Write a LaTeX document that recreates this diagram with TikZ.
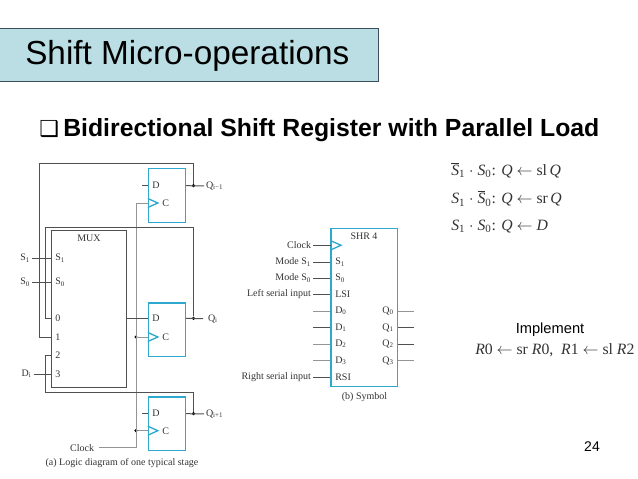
\documentclass[tikz,border=0pt]{standalone}
\usepackage{fontspec}
\setmainfont{Liberation Serif}
\newfontfamily\arialfont{Liberation Sans}
\newfontfamily\boxfont{DejaVu Sans}
\usetikzlibrary{positioning}

\definecolor{ffcyan}{HTML}{2FA8CF}
\definecolor{wiregray}{HTML}{505050}
\definecolor{clockgray}{HTML}{959595}
\definecolor{titlefill}{HTML}{BADEE3}
\definecolor{titleline}{HTML}{3C4F5C}

\newcommand{\clkmark}[1]{\draw[ffline] (#1) ++(0,-4.5) -- ++(10,4.5) -- ++(-10,4.5);}
\newcommand{\ovS}{$\overline{\mbox{\textit{S}}}$}

\begin{document}
\begin{tikzpicture}[
    x = 0.75pt,
    y = -0.75pt,
    node distance = 0pt,
    lbl/.style = {inner sep = 0pt, font = \fontsize{7.5}{9}\selectfont, text = black!80},
    pinlbl/.style = {lbl, outer sep = 1.5pt},
    eqn/.style = {inner sep = 0pt, anchor = west, font = \fontsize{11.8}{14}\selectfont, text = black!80},
    wire/.style = {draw = wiregray, line width = 0.75pt},
    clockwire/.style = {draw = clockgray, line width = 0.7pt},
    ffline/.style = {draw = ffcyan, line width = 1pt},
    ffbox/.style = {ffline, minimum width = 27.75pt, minimum height = 40.2pt, inner sep = 0pt},
    dot/.style = {circle, fill = black, inner sep = 0pt, minimum size = 2.6pt}
    ]
    \useasboundingbox (0,0) rectangle (638,478);

    % heading
    \node[draw = titleline, fill = titlefill, line width = 0.8pt, minimum width = 285pt, minimum height = 40pt, inner sep = 0pt] (title) at (188.5,54.8) {};
    \node[inner sep = 0pt, anchor = west, font = \arialfont\fontsize{25}{29}\selectfont] (titletxt) at (25,55.5) {Shift Micro-operations};
    \node[inner sep = 0pt, anchor = west, font = \boxfont\bfseries\fontsize{16.5}{20}\selectfont] (bullet) at (39,129) {❑};
    \node[inner sep = 0pt, anchor = west, font = \arialfont\bfseries\fontsize{18.6}{22}\selectfont] (subtitle) at (63,130) {Bidirectional Shift Register with Parallel Load};

    % flip flops and mux
    \node[ffbox] (ffa) at (167,195.5) {};
    \node[ffbox] (ffb) at (167,329.7) {};
    \node[ffbox] (ffc) at (167,423.7) {};
    \node[draw = wiregray, line width = 0.75pt, minimum width = 56.25pt, minimum height = 117.5pt, inner sep = 0pt] (mux) at (89,309) {};

    % mux text
    \node[lbl] (muxname) at (89,238) {MUX};
    \node[lbl, anchor = west] (ms1) at (55,258) {S\textsubscript{1}};
    \node[lbl, anchor = west] (ms0) at (55,282) {S\textsubscript{0}};
    \node[lbl, anchor = west] (in0) at (55,318) {0};
    \node[lbl, anchor = west] (in1) at (55,337) {1};
    \node[lbl, anchor = west] (in2) at (55,355.5) {2};
    \node[lbl, anchor = west] (in3) at (55,374) {3};
    \node[pinlbl, anchor = east] (s1) at (32,258) {S\textsubscript{1}};
    \node[pinlbl, anchor = east] (s0) at (32,282) {S\textsubscript{0}};
    \node[pinlbl, anchor = east] (di) at (33.5,374) {D\textsubscript{i}};

    % flip flop text
    \node[lbl, anchor = west] (da) at (152,185.7) {D};
    \node[lbl, anchor = west] (db) at (152,318.3) {D};
    \node[lbl, anchor = west] (dc) at (152,413.7) {D};
    \node[lbl, anchor = west] (ca) at (162,203) {C};
    \node[lbl, anchor = west] (cb) at (162,337) {C};
    \node[lbl, anchor = west] (cc) at (162,431) {C};
    \node[pinlbl, anchor = west] (oa) at (204,186) {Q\textsubscript{i−1}};
    \node[pinlbl, anchor = west, outer sep = 3.75pt] (ob) at (203,319) {Q\textsubscript{i}};
    \node[pinlbl, anchor = west] (oc) at (204,414) {Q\textsubscript{i+1}};
    \node[dot] (qa) at (193.5,185.7) {};
    \node[dot] (qb) at (193.5,318.3) {};
    \node[dot] (qc) at (193.5,413.7) {};
    \node[dot] (cka) at (136,337) {};
    \node[dot] (ckb) at (136,430.7) {};
    \node[pinlbl, anchor = east, outer sep = 3.75pt] (clock) at (99,447.7) {Clock};
    \node[lbl] (capa) at (122,463) {(a) Logic diagram of one typical stage};

    \coordinate (pinda) at (142,185.7);
    \coordinate (pindc) at (142,413.7);
    \coordinate (cktop) at (136,203);

    % clock lines
    \draw[clockwire] (clock) -| (cktop) -- (cktop -| ffa.west);
    \draw[clockwire] (cka) -- (cka -| ffb.west);
    \draw[clockwire] (ckb) -- (ckb -| ffc.west);
    \clkmark{ffa.west |- cktop}
    \clkmark{ffb.west |- cka}
    \clkmark{ffc.west |- ckb}

    % signal lines
    \draw[wire] (ffa.east |- qa) -- (oa);
    \draw[wire] (ffb.east |- qb) -- (ob);
    \draw[wire] (ffc.east |- qc) -- (oc);
    \draw[wire] (pinda) -- (ffa.west |- pinda);
    \draw[wire] (pindc) -- (ffc.west |- pindc);
    \draw[wire] (mux.east |- qb) -- (ffb.west |- qb);
    \draw[wire] (s1) -- (mux.west |- s1);
    \draw[wire] (s0) -- (mux.west |- s0);
    \draw[wire] (di) -- (mux.west |- di);
    \draw[wire] (qa) |- (39,163.3) |- (mux.west |- in1);
    \draw[wire] (qb) |- (45,227.3) |- (mux.west |- in0);
    \draw[wire] (mux.west |- in2) -| (45,392) -| (qc);

    % symbol
    \node[ffline, minimum width = 50pt, minimum height = 118.8pt, inner sep = 0pt] (shr) at (364.3,307.5) {};
    \node[lbl] (shrname) at (364,236) {SHR 4};
    \coordinate (shrclk) at (331,245.3);
    \node[lbl, anchor = west] (is1) at (335,262) {S\textsubscript{1}};
    \node[lbl, anchor = west] (is0) at (335,278) {S\textsubscript{0}};
    \node[lbl, anchor = west] (ilsi) at (335,294.3) {LSI};
    \node[lbl, anchor = west] (id0) at (335,311) {D\textsubscript{0}};
    \node[lbl, anchor = west] (id1) at (335,327.7) {D\textsubscript{1}};
    \node[lbl, anchor = west] (id2) at (335,344) {D\textsubscript{2}};
    \node[lbl, anchor = west] (id3) at (335,360.7) {D\textsubscript{3}};
    \node[lbl, anchor = west] (irsi) at (335,377.3) {RSI};
    \node[lbl, anchor = east] (oq0) at (394,311) {Q\textsubscript{0}};
    \node[lbl, anchor = east] (oq1) at (394,327.7) {Q\textsubscript{1}};
    \node[lbl, anchor = east] (oq2) at (394,344) {Q\textsubscript{2}};
    \node[lbl, anchor = east] (oq3) at (394,360.7) {Q\textsubscript{3}};
    \node[pinlbl, anchor = east] (nclock) at (313,245.3) {Clock};
    \node[pinlbl, anchor = east] (nmode1) at (313,262) {Mode S\textsubscript{1}};
    \node[pinlbl, anchor = east] (nmode0) at (313,278) {Mode S\textsubscript{0}};
    \node[pinlbl, anchor = east] (nleft) at (313,294.3) {Left serial input};
    \node[pinlbl, anchor = east] (nright) at (313,377.3) {Right serial input};
    \node[lbl] (capb) at (364.5,397) {(b) Symbol};

    \coordinate (fd0) at (313,311);
    \coordinate (fd1) at (313,327.7);
    \coordinate (fd2) at (313,344);
    \coordinate (fd3) at (313,360.7);
    \coordinate (tq0) at (414,311);
    \coordinate (tq1) at (414,327.7);
    \coordinate (tq2) at (414,344);
    \coordinate (tq3) at (414,360.7);

    \clkmark{shrclk}
    \draw[wire] (nclock) -- (shrclk);
    \draw[wire] (nmode1) -- (shr.west |- nmode1);
    \draw[wire] (nmode0) -- (shr.west |- nmode0);
    \draw[wire] (nleft) -- (shr.west |- nleft);
    \draw[wire] (nright) -- (shr.west |- nright);
    \draw[clockwire] (fd0) -- (shr.west |- fd0);
    \draw[wire] (fd1) -- (shr.west |- fd1);
    \draw[clockwire] (fd2) -- (shr.west |- fd2);
    \draw[clockwire] (fd3) -- (shr.west |- fd3);
    \draw[clockwire] (tq0) -- (shr.east |- tq0);
    \draw[wire] (tq1) -- (shr.east |- tq1);
    \draw[wire] (tq2) -- (shr.east |- tq2);
    \draw[clockwire] (tq3) -- (shr.east |- tq3);

    % right hand text
    \node[eqn] (eqa) at (451,170) {\ovS\textsubscript{1} $\cdot$ \textit{S}\textsubscript{0}: \textit{Q} $\leftarrow$ sl\,\textit{Q}};
    \node[eqn] (eqb) at (451,198.5) {\textit{S}\textsubscript{1} $\cdot$ \ovS\textsubscript{0}: \textit{Q} $\leftarrow$ sr\,\textit{Q}};
    \node[eqn] (eqc) at (451,226.5) {\textit{S}\textsubscript{1} $\cdot$ \textit{S}\textsubscript{0}: \textit{Q} $\leftarrow$ \textit{D}};
    \node[inner sep = 0pt, font = \arialfont\fontsize{11}{14}\selectfont] (impl) at (550,329.5) {Implement};
    \node[eqn] (eqd) at (475,350) {\textit{R}0 $\leftarrow$ sr \textit{R}0,\ \ \textit{R}1 $\leftarrow$ sl \textit{R}2};
    \node[inner sep = 0pt, font = \arialfont\fontsize{10.5}{13}\selectfont] (pageno) at (592,447) {24};
\end{tikzpicture}
\end{document}
